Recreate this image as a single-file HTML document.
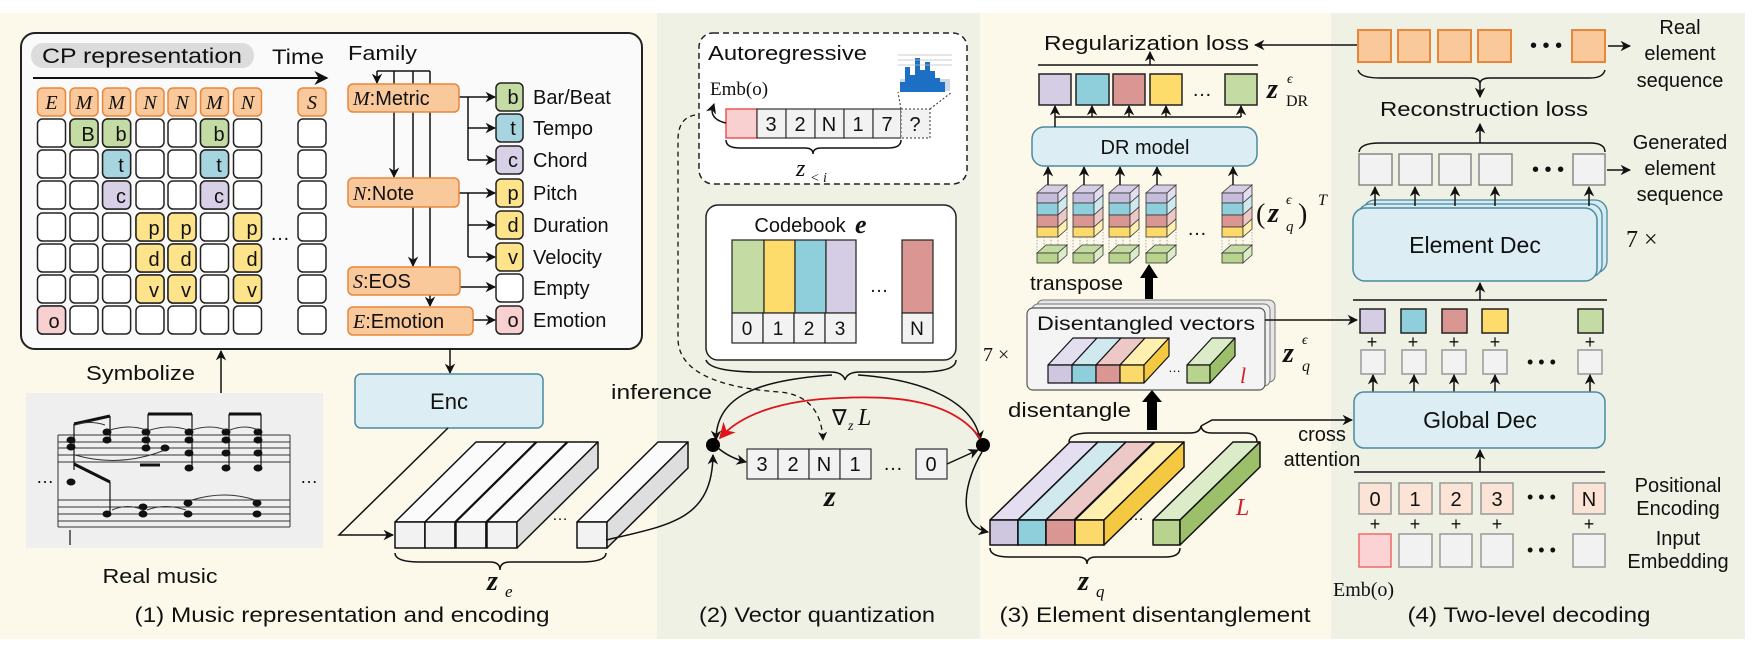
<!DOCTYPE html>
<html><head><meta charset="utf-8"><style>
html,body{margin:0;padding:0;background:#fff;}
svg{display:block;}
text{font-family:"Liberation Sans",sans-serif;fill:#111;}
.m{font-family:"Liberation Serif",serif;font-style:italic;}
.mb{font-family:"Liberation Serif",serif;font-style:italic;font-weight:bold;}
.r{font-family:"Liberation Serif",serif;}
</style></head><body>
<svg width="1755" height="647" viewBox="0 0 1755 647" xmlns="http://www.w3.org/2000/svg">
<defs>
<marker id="a" viewBox="0 0 10 10" refX="9" refY="5" markerWidth="7" markerHeight="7" orient="auto-start-reverse"><path d="M0,0 L10,5 L0,10 L3,5 z" fill="#111"/></marker>
<marker id="ar" viewBox="0 0 10 10" refX="9" refY="5" markerWidth="9" markerHeight="9" orient="auto"><path d="M0,0 L10,5 L0,10 L3,5 z" fill="#e0141b"/></marker>
<g id="gr" stroke="#222" stroke-width="1.5" fill="#fff">
<rect x="37.5" y="0" width="28" height="28" rx="5"/><rect x="70" y="0" width="28" height="28" rx="5"/><rect x="102.6" y="0" width="28" height="28" rx="5"/><rect x="136" y="0" width="28" height="28" rx="5"/><rect x="168" y="0" width="28" height="28" rx="5"/><rect x="200.5" y="0" width="28" height="28" rx="5"/><rect x="233.5" y="0" width="28" height="28" rx="5"/><rect x="298" y="0" width="28" height="28" rx="5"/>
</g>
<g id="zb" stroke="#111" stroke-width="1.5" stroke-linejoin="round"><path d="M0,0 L81,-80 L111,-80 L30,0 z" fill="#fbfbfb"/><rect x="0" y="0" width="30" height="26" fill="#f2f2f2"/><path d="M30,0 L111,-80 L111,-54 L30,26 z" fill="#dedede"/></g>
<g id="st" stroke="#333" stroke-width="0.8">
<path d="M0,8 L9,0 L30,0 L21,8 z" fill="#d5cde3"/>
<rect x="0" y="8" width="21" height="10" fill="#c6bddc"/><path d="M21,8 L30,0 L30,10 L21,18z" fill="#e4dff0"/>
<rect x="0" y="18" width="21" height="12" fill="#8fcfdc"/><path d="M21,18 L30,10 L30,22 L21,30z" fill="#cfe9ef"/>
<rect x="0" y="30" width="21" height="12" fill="#d99692"/><path d="M21,30 L30,22 L30,34 L21,42z" fill="#ecc9c7"/>
<rect x="0" y="42" width="21" height="10" fill="#fcd96b"/><path d="M21,42 L30,34 L30,44 L21,52z" fill="#fff0b0"/>
<g stroke-dasharray="1.5,1.5" stroke="#999"><line x1="0" y1="52" x2="0" y2="68"/><line x1="7" y1="52" x2="7" y2="68"/><line x1="14" y1="52" x2="14" y2="68"/><line x1="21" y1="52" x2="21" y2="68"/><line x1="30" y1="44" x2="30" y2="60"/></g>
<path d="M0,68 L9,60 L30,60 L21,68 z" fill="#c5dba4"/>
<rect x="0" y="68" width="21" height="10" fill="#b7d38e"/><path d="M21,68 L30,60 L30,70 L21,78z" fill="#dcebc8"/>
</g>
</defs>
<!-- panels -->
<rect x="0" y="13" width="657" height="626" fill="#fcf9ea"/>
<rect x="657" y="13" width="323" height="626" fill="#eef1e4"/>
<rect x="980" y="13" width="351" height="626" fill="#fcf9ea"/>
<rect x="1331" y="13" width="414" height="626" fill="#eef1e4"/>

<!-- Panel 1 outer box -->
<rect x="21" y="33" width="621" height="316" rx="14" fill="#fafafa" stroke="#222" stroke-width="2"/>
<rect x="31" y="43" width="223" height="25" rx="12" fill="#dcdcdc"/>
<text x="142" y="63" font-size="21" text-anchor="middle" textLength="200" lengthAdjust="spacingAndGlyphs">CP representation</text>
<text x="272" y="64" font-size="21" textLength="52" lengthAdjust="spacingAndGlyphs">Time</text>
<line x1="33" y1="78" x2="327" y2="78" stroke="#111" stroke-width="2" marker-end="url(#a)"/>

<!-- token row -->
<g stroke="#e8873a" stroke-width="1.5" fill="#f9c89b">
<rect x="37.5" y="88" width="28" height="28" rx="5"/><rect x="70" y="88" width="28" height="28" rx="5"/><rect x="102.6" y="88" width="28" height="28" rx="5"/><rect x="136" y="88" width="28" height="28" rx="5"/><rect x="168" y="88" width="28" height="28" rx="5"/><rect x="200.5" y="88" width="28" height="28" rx="5"/><rect x="233.5" y="88" width="28" height="28" rx="5"/><rect x="298" y="88" width="28" height="28" rx="5"/>
</g>
<g font-size="20" text-anchor="middle">
<text class="m" x="51.5" y="109">E</text><text class="m" x="84" y="109">M</text><text class="m" x="116.6" y="109">M</text><text class="m" x="150" y="109">N</text><text class="m" x="182" y="109">N</text><text class="m" x="214.5" y="109">M</text><text class="m" x="247.5" y="109">N</text><text class="m" x="312" y="109">S</text>
</g>
<!-- grid -->
<use href="#gr" y="119"/><use href="#gr" y="150"/><use href="#gr" y="181"/><use href="#gr" y="213"/><use href="#gr" y="244"/><use href="#gr" y="275"/><use href="#gr" y="306"/>
<g stroke="#222" stroke-width="1.5">
<rect x="70" y="119" width="28" height="28" rx="5" fill="#c5dba4"/><rect x="102.6" y="119" width="28" height="28" rx="5" fill="#c5dba4"/><rect x="200.5" y="119" width="28" height="28" rx="5" fill="#c5dba4"/>
<rect x="102.6" y="150" width="28" height="28" rx="5" fill="#a6d5e0"/><rect x="200.5" y="150" width="28" height="28" rx="5" fill="#a6d5e0"/>
<rect x="102.6" y="181" width="28" height="28" rx="5" fill="#d8d0e6"/><rect x="200.5" y="181" width="28" height="28" rx="5" fill="#d8d0e6"/>
<rect x="136" y="213" width="28" height="28" rx="5" fill="#fde38a"/><rect x="168" y="213" width="28" height="28" rx="5" fill="#fde38a"/><rect x="233.5" y="213" width="28" height="28" rx="5" fill="#fde38a"/>
<rect x="136" y="244" width="28" height="28" rx="5" fill="#fde38a"/><rect x="168" y="244" width="28" height="28" rx="5" fill="#fde38a"/><rect x="233.5" y="244" width="28" height="28" rx="5" fill="#fde38a"/>
<rect x="136" y="275" width="28" height="28" rx="5" fill="#fde38a"/><rect x="168" y="275" width="28" height="28" rx="5" fill="#fde38a"/><rect x="233.5" y="275" width="28" height="28" rx="5" fill="#fde38a"/>
<rect x="37.5" y="306" width="28" height="28" rx="5" fill="#f9d0d0"/>
</g>
<g font-size="20" text-anchor="middle">
<text x="88" y="141">B</text><text x="121" y="141">b</text><text x="219" y="141">b</text>
<text x="121" y="172">t</text><text x="219" y="172">t</text>
<text x="121" y="203">c</text><text x="219" y="203">c</text>
<text x="154" y="235">p</text><text x="186" y="235">p</text><text x="252" y="235">p</text>
<text x="154" y="266">d</text><text x="186" y="266">d</text><text x="252" y="266">d</text>
<text x="154" y="297">v</text><text x="186" y="297">v</text><text x="252" y="297">v</text>
<text x="54" y="328">o</text>
<text x="280" y="240">…</text>
</g>

<!-- family tree -->
<text x="348" y="60" font-size="20" textLength="69" lengthAdjust="spacingAndGlyphs">Family</text>
<g stroke="#111" stroke-width="1.5" fill="none">
<line x1="377" y1="71" x2="430" y2="71"/>
<line x1="377" y1="71" x2="377" y2="83" marker-end="url(#a)"/>
<line x1="394" y1="71" x2="394" y2="177" marker-end="url(#a)"/>
<line x1="413" y1="71" x2="413" y2="266" marker-end="url(#a)"/>
<line x1="430" y1="71" x2="430" y2="306" marker-end="url(#a)"/>
<polyline points="459,97 468,97 468,160"/>
<line x1="468" y1="97" x2="495" y2="97" marker-end="url(#a)"/>
<line x1="468" y1="128" x2="495" y2="128" marker-end="url(#a)"/>
<line x1="468" y1="160" x2="495" y2="160" marker-end="url(#a)"/>
<polyline points="459,193 468,193 468,257"/>
<line x1="468" y1="193" x2="495" y2="193" marker-end="url(#a)"/>
<line x1="468" y1="225" x2="495" y2="225" marker-end="url(#a)"/>
<line x1="468" y1="257" x2="495" y2="257" marker-end="url(#a)"/>
<line x1="460" y1="287" x2="495" y2="287" marker-end="url(#a)"/>
<line x1="473" y1="320" x2="495" y2="320" marker-end="url(#a)"/>
</g>
<g stroke="#e8873a" stroke-width="1.5" fill="#f9c89b">
<rect x="348" y="84" width="111" height="28" rx="5"/>
<rect x="348" y="178" width="111" height="29" rx="5"/>
<rect x="348" y="267" width="112" height="28" rx="5"/>
<rect x="348" y="307" width="125" height="28" rx="5"/>
</g>
<g font-size="20">
<text x="353" y="105"><tspan class="m">M</tspan>:Metric</text>
<text x="353" y="200"><tspan class="m">N</tspan>:Note</text>
<text x="353" y="288"><tspan class="m">S</tspan>:EOS</text>
<text x="353" y="328"><tspan class="m">E</tspan>:Emotion</text>
</g>
<g stroke="#222" stroke-width="1.5">
<rect x="496" y="83" width="27" height="28" rx="5" fill="#c5dba4"/>
<rect x="496" y="114" width="27" height="28" rx="5" fill="#a6d5e0"/>
<rect x="496" y="146" width="27" height="28" rx="5" fill="#d8d0e6"/>
<rect x="496" y="179" width="27" height="28" rx="5" fill="#fde38a"/>
<rect x="496" y="211" width="27" height="28" rx="5" fill="#fde38a"/>
<rect x="496" y="243" width="27" height="28" rx="5" fill="#fde38a"/>
<rect x="496" y="274" width="27" height="28" rx="5" fill="#fff"/>
<rect x="496" y="306" width="27" height="28" rx="5" fill="#f9d0d0"/>
</g>
<g font-size="20" text-anchor="middle">
<text x="513" y="104">b</text><text x="513" y="135">t</text><text x="513" y="167">c</text><text x="513" y="200">p</text><text x="513" y="232">d</text><text x="513" y="264">v</text><text x="513" y="327">o</text>
</g>
<g font-size="20">
<text x="533" y="104">Bar/Beat</text><text x="533" y="135">Tempo</text><text x="533" y="167">Chord</text><text x="533" y="200">Pitch</text><text x="533" y="232">Duration</text><text x="533" y="264">Velocity</text><text x="533" y="295">Empty</text><text x="533" y="327">Emotion</text>
</g>

<!-- Symbolize / music -->
<text x="86" y="380" font-size="20" textLength="109" lengthAdjust="spacingAndGlyphs">Symbolize</text>
<line x1="221" y1="393" x2="221" y2="351" stroke="#111" stroke-width="1.5" marker-end="url(#a)"/>
<rect x="26" y="393" width="297" height="155" fill="#efefef"/>
<g stroke="#333" stroke-width="1">
<line x1="58" y1="435" x2="290" y2="435"/><line x1="58" y1="442" x2="290" y2="442"/><line x1="58" y1="448" x2="290" y2="448"/><line x1="58" y1="455" x2="290" y2="455"/><line x1="58" y1="462" x2="290" y2="462"/>
<line x1="58" y1="500" x2="290" y2="500"/><line x1="58" y1="507" x2="290" y2="507"/><line x1="58" y1="514" x2="290" y2="514"/><line x1="58" y1="521" x2="290" y2="521"/><line x1="58" y1="527" x2="290" y2="527"/>
<line x1="58" y1="435" x2="58" y2="527"/><line x1="290" y1="435" x2="290" y2="527"/>
</g>
<g fill="#111" stroke="#111">
<line x1="74" y1="424" x2="110" y2="416" stroke-width="3"/>
<line x1="148" y1="414" x2="192" y2="414" stroke-width="3"/>
<line x1="229" y1="414" x2="261" y2="414" stroke-width="3"/>
<line x1="74" y1="464" x2="110" y2="482" stroke-width="3"/>
<line x1="140" y1="465" x2="160" y2="465" stroke-width="3"/>
<g stroke-width="1.2">
<line x1="74" y1="424" x2="74" y2="470"/><line x1="110" y1="416" x2="110" y2="440"/><line x1="148" y1="414" x2="148" y2="450"/><line x1="192" y1="414" x2="192" y2="470"/><line x1="229" y1="414" x2="229" y2="470"/><line x1="261" y1="414" x2="261" y2="470"/><line x1="110" y1="482" x2="110" y2="514"/><line x1="70" y1="530" x2="70" y2="545"/>
</g>
<ellipse cx="71" cy="447" rx="4" ry="3"/><ellipse cx="71" cy="440" rx="4" ry="3"/><ellipse cx="107" cy="440" rx="4" ry="3"/><ellipse cx="107" cy="432" rx="4" ry="3"/>
<ellipse cx="146" cy="432" rx="4" ry="3"/><ellipse cx="146" cy="440" rx="4" ry="3"/><ellipse cx="146" cy="448" rx="4" ry="3"/><ellipse cx="165" cy="448" rx="4" ry="3"/>
<ellipse cx="189" cy="432" rx="4" ry="3"/><ellipse cx="189" cy="440" rx="4" ry="3"/><ellipse cx="189" cy="453" rx="4" ry="3"/><ellipse cx="189" cy="468" rx="4" ry="3"/>
<ellipse cx="226" cy="432" rx="4" ry="3"/><ellipse cx="226" cy="440" rx="4" ry="3"/><ellipse cx="226" cy="453" rx="4" ry="3"/><ellipse cx="226" cy="468" rx="4" ry="3"/>
<ellipse cx="258" cy="432" rx="4" ry="3"/><ellipse cx="258" cy="440" rx="4" ry="3"/><ellipse cx="258" cy="453" rx="4" ry="3"/><ellipse cx="258" cy="468" rx="4" ry="3"/>
<ellipse cx="71" cy="482" rx="4" ry="3"/><ellipse cx="107" cy="514" rx="4" ry="3"/><ellipse cx="143" cy="507" rx="4" ry="3"/><ellipse cx="143" cy="514" rx="4" ry="3"/>
<ellipse cx="188" cy="503" rx="4" ry="3"/><ellipse cx="188" cy="514" rx="4" ry="3"/><ellipse cx="257" cy="503" rx="4" ry="3"/><ellipse cx="257" cy="514" rx="4" ry="3"/>
</g>
<g fill="none" stroke="#333" stroke-width="1"><path d="M75,425 Q90,420 105,425"/><path d="M110,430 Q130,424 146,430"/><path d="M150,430 Q170,424 188,430"/><path d="M192,430 Q210,424 226,430"/><path d="M230,430 Q245,424 258,430"/><path d="M112,510 Q128,503 143,510"/><path d="M147,510 Q165,503 186,510"/><path d="M192,500 Q225,490 255,500"/><path d="M75,455 Q120,468 165,450"/></g>
<text x="36" y="483" font-size="18">…</text><text x="300" y="483" font-size="18">…</text>
<text x="160" y="583" font-size="20" text-anchor="middle" textLength="115" lengthAdjust="spacingAndGlyphs">Real music</text>

<!-- Enc -->
<line x1="450" y1="349" x2="450" y2="373" stroke="#111" stroke-width="1.5" marker-end="url(#a)"/>
<rect x="355" y="374" width="188" height="54" rx="6" fill="#dcedf4" stroke="#4a8aa0" stroke-width="1.5"/>
<text x="449" y="409" font-size="22" text-anchor="middle">Enc</text>
<polyline points="448,428 339,535 393,535" fill="none" stroke="#111" stroke-width="1.5" marker-end="url(#a)"/>
<use href="#zb" x="395" y="522"/><use href="#zb" x="425" y="522"/><use href="#zb" x="456" y="522"/><use href="#zb" x="487" y="522"/><use href="#zb" x="577" y="522"/>
<text x="552" y="520" font-size="16">…</text>
<path d="M395,553 Q395,562 420,562 L490,562 Q500,562 500,570 Q500,562 510,562 L580,562 Q606,562 606,553" fill="none" stroke="#111" stroke-width="1.5"/>
<text x="487" y="590" class="mb" font-size="28">z</text><text x="505" y="597" class="m" font-size="17">e</text>
<text x="342" y="622" font-size="21" text-anchor="middle" textLength="415" lengthAdjust="spacingAndGlyphs">(1) Music representation and encoding</text>

<!-- Panel 2 -->
<rect x="699" y="33" width="268" height="151" rx="14" fill="#fff" stroke="#222" stroke-width="1.5" stroke-dasharray="6,4"/>
<text x="708" y="60" font-size="20" textLength="159" lengthAdjust="spacingAndGlyphs">Autoregressive</text>
<text x="710" y="95" class="r" font-size="19">Emb(o)</text>
<g fill="#1d6fc4"><rect x="900" y="79" width="50" height="12" fill="#cfd8e6"/>
<rect x="900" y="82" width="5" height="10"/><rect x="905" y="67" width="5" height="25"/><rect x="910" y="75" width="5" height="17"/><rect x="915" y="58" width="5" height="34"/><rect x="920" y="70" width="5" height="22"/><rect x="925" y="62" width="5" height="30"/><rect x="930" y="71" width="5" height="21"/><rect x="935" y="78" width="5" height="14"/><rect x="940" y="82" width="5" height="10"/></g>
<g stroke="#bbb" stroke-width="0.8"><line x1="898" y1="55" x2="952" y2="55"/><line x1="898" y1="60" x2="952" y2="60"/><line x1="898" y1="65" x2="952" y2="65"/></g>
<path d="M901,109 L898,92 M930,109 L952,92" stroke="#333" stroke-dasharray="2,2" fill="none"/>
<rect x="726" y="109" width="31" height="29" fill="#f9d0d0" stroke="#e55" stroke-width="1.5"/>
<g stroke="#333" stroke-width="1.2" fill="#f2f2f2">
<rect x="757" y="109" width="29" height="29"/><rect x="786" y="109" width="29" height="29"/><rect x="815" y="109" width="29" height="29"/><rect x="844" y="109" width="29" height="29"/><rect x="873" y="109" width="28" height="29"/>
</g>
<rect x="901" y="109" width="29" height="29" fill="#f2f2f2" stroke="#333" stroke-dasharray="2,2"/>
<g font-size="20" text-anchor="middle"><text x="771" y="131">3</text><text x="800" y="131">2</text><text x="829" y="131">N</text><text x="858" y="131">1</text><text x="887" y="131">7</text><text x="915" y="131">?</text></g>
<path d="M726,123 Q712,120 712,110 L714,104" fill="none" stroke="#111" stroke-width="1.5" marker-end="url(#a)"/>
<path d="M726,140 Q726,148 740,148 L805,148 Q813,148 813,154 Q813,148 821,148 L888,148 Q901,148 901,140" fill="none" stroke="#111" stroke-width="1.5"/>
<text x="796" y="176" class="m" font-size="24">z</text><text x="810" y="182" class="m" font-size="14">&lt; i</text>

<!-- codebook -->
<rect x="706" y="205" width="250" height="155" rx="12" fill="#fff" stroke="#222" stroke-width="1.5"/>
<text x="800" y="232" font-size="20" text-anchor="middle">Codebook</text><text x="855" y="233" class="mb" font-size="26">e</text>
<g stroke="#222" stroke-width="1.2">
<rect x="732" y="240" width="32" height="73" fill="#c5dba4"/><rect x="764" y="240" width="31" height="73" fill="#fddc6c"/><rect x="795" y="240" width="31" height="73" fill="#8fcfdc"/><rect x="826" y="240" width="30" height="73" fill="#d5cde3"/><rect x="902" y="240" width="31" height="73" fill="#d99692"/>
<rect x="732" y="313" width="31" height="30" fill="#f2f2f2"/><rect x="763" y="313" width="31" height="30" fill="#f2f2f2"/><rect x="794" y="313" width="31" height="30" fill="#f2f2f2"/><rect x="825" y="313" width="31" height="30" fill="#f2f2f2"/><rect x="902" y="313" width="31" height="30" fill="#f2f2f2"/>
</g>
<g font-size="19" text-anchor="middle"><text x="747" y="335">0</text><text x="778" y="335">1</text><text x="809" y="335">2</text><text x="840" y="335">3</text><text x="917" y="335">N</text><text x="879" y="292">…</text></g>
<!-- curves -->
<path d="M706,360 Q710,372 760,372 L830,372 Q843,372 845,380 Q847,372 860,372 L920,372 Q956,372 956,360" fill="none" stroke="#111" stroke-width="1.5"/>
<path d="M832,375 C760,380 716,395 716,440" fill="none" stroke="#111" stroke-width="1.5" marker-end="url(#a)"/>
<path d="M858,375 C930,380 975,405 980,440" fill="none" stroke="#111" stroke-width="1.5" marker-end="url(#a)"/>
<path d="M695,115 Q678,118 678,140 L678,340 Q680,385 780,392 Q821,396 823,440" fill="none" stroke="#111" stroke-width="1.3" stroke-dasharray="5,4" marker-end="url(#a)"/>
<path d="M983,443 C955,395 880,396 840,398 C780,400 740,415 720,438" fill="none" stroke="#e0141b" stroke-width="1.8" marker-end="url(#ar)"/>
<circle cx="713" cy="445" r="7" fill="#000"/><circle cx="983" cy="445" r="7" fill="#000"/>
<text x="611" y="399" font-size="20" textLength="101" lengthAdjust="spacingAndGlyphs">inference</text>
<text x="832" y="425" class="r" font-size="22">∇</text><text x="848" y="430" class="m" font-size="14">z</text><text x="858" y="425" class="m" font-size="24">L</text>
<path d="M606,540 C670,525 712,520 713,455" fill="none" stroke="#111" stroke-width="1.5" marker-end="url(#a)"/>
<path d="M718,448 Q730,458 746,462" fill="none" stroke="#111" stroke-width="1.5" marker-end="url(#a)"/>
<g stroke="#333" stroke-width="1.2" fill="#f2f2f2"><rect x="747" y="449" width="31" height="30"/><rect x="778" y="449" width="31" height="30"/><rect x="809" y="449" width="31" height="30"/><rect x="840" y="449" width="31" height="30"/><rect x="916" y="449" width="31" height="30"/></g>
<g font-size="20" text-anchor="middle"><text x="762" y="471">3</text><text x="793" y="471">2</text><text x="824" y="471">N</text><text x="855" y="471">1</text><text x="931" y="471">0</text><text x="893" y="470">…</text></g>
<path d="M947,464 L978,450" fill="none" stroke="#111" stroke-width="1.5" marker-end="url(#a)"/>
<text x="824" y="506" class="mb" font-size="30">z</text>
<path d="M982,452 C965,480 955,525 988,532" fill="none" stroke="#111" stroke-width="1.5" marker-end="url(#a)"/>
<text x="817" y="622" font-size="21" text-anchor="middle" textLength="236" lengthAdjust="spacingAndGlyphs">(2) Vector quantization</text>

<!-- Panel 3: z_q blocks -->
<g stroke="#111" stroke-width="1.5" stroke-linejoin="round">
<g transform="translate(990,520)"><path d="M0,0 L80,-78 L108,-78 L28,0 z" fill="#e4dff0"/><rect width="28" height="25" fill="#cfc6e0"/><path d="M28,0 L108,-78 L108,-53 L28,25 z" fill="#b9afd0"/></g>
<g transform="translate(1018,520)"><path d="M0,0 L80,-78 L108,-78 L28,0 z" fill="#cfe9ef"/><rect width="28" height="25" fill="#8fcfdc"/><path d="M28,0 L108,-78 L108,-53 L28,25 z" fill="#79bfcf"/></g>
<g transform="translate(1046,520)"><path d="M0,0 L80,-78 L108,-78 L28,0 z" fill="#ecc9c7"/><rect width="29" height="25" fill="#d99692"/><path d="M29,0 L108,-78 L108,-53 L29,25 z" fill="#c97e7a"/></g>
<g transform="translate(1075,520)"><path d="M0,0 L80,-78 L109,-78 L29,0 z" fill="#fff0b0"/><rect width="29" height="25" fill="#fcd96b"/><path d="M29,0 L109,-78 L109,-53 L29,25 z" fill="#f5c842"/></g>
<g transform="translate(1153,520)"><path d="M0,0 L80,-78 L107,-78 L27,0 z" fill="#dcebc8"/><rect width="27" height="25" fill="#b7d38e"/><path d="M27,0 L107,-78 L107,-53 L27,25 z" fill="#9cc06a"/></g>
</g>
<text x="1128" y="520" font-size="16">…</text>
<text x="1236" y="515" class="m" font-size="24" style="fill:#d0202a">L</text>
<path d="M990,548 Q990,557 1010,557 L1078,557 Q1087,557 1087,564 Q1087,557 1096,557 L1165,557 Q1180,557 1180,548" fill="none" stroke="#111" stroke-width="1.5"/>
<text x="1078" y="590" class="mb" font-size="28">z</text><text x="1096" y="597" class="m" font-size="17">q</text>
<text x="1155" y="622" font-size="21" text-anchor="middle" textLength="311" lengthAdjust="spacingAndGlyphs">(3) Element disentanglement</text>
<path d="M1069,442 Q1069,433 1090,433 L1190,433 Q1200,433 1201,426 Q1202,433 1212,433 L1245,433 Q1257,433 1257,442" fill="none" stroke="#111" stroke-width="1.5"/>
<polyline points="1201,426 1212,420 1352,420" fill="none" stroke="#111" stroke-width="1.5" marker-end="url(#a)"/>
<text x="1322" y="441" font-size="20" text-anchor="middle">cross</text>
<text x="1322" y="466" font-size="20" text-anchor="middle">attention</text>
<text x="1008" y="417" font-size="20" textLength="123" lengthAdjust="spacingAndGlyphs">disentangle</text>
<path d="M1147,430 L1147,402 L1142,402 L1152,390 L1162,402 L1157,402 L1157,430 z" fill="#000"/>

<!-- disentangled vectors -->
<rect x="1037" y="300" width="238" height="82" rx="6" fill="#e6e6e6" stroke="#777" stroke-width="1"/>
<rect x="1032" y="304" width="238" height="82" rx="6" fill="#efefef" stroke="#777" stroke-width="1"/>
<rect x="1027" y="308" width="238" height="82" rx="6" fill="#f4f4f4" stroke="#555" stroke-width="1.2"/>
<text x="1146" y="330" font-size="19" text-anchor="middle" textLength="218" lengthAdjust="spacingAndGlyphs">Disentangled vectors</text>
<g stroke="#111" stroke-width="1.2" stroke-linejoin="round">
<g transform="translate(1048,365)"><path d="M0,0 L25,-27 L49,-27 L24,0 z" fill="#e4dff0"/><rect width="24" height="18" fill="#cfc6e0"/></g>
<g transform="translate(1072,365)"><path d="M0,0 L25,-27 L49,-27 L24,0 z" fill="#cfe9ef"/><rect width="24" height="18" fill="#8fcfdc"/></g>
<g transform="translate(1096,365)"><path d="M0,0 L25,-27 L49,-27 L24,0 z" fill="#ecc9c7"/><rect width="24" height="18" fill="#d99692"/></g>
<g transform="translate(1120,365)"><path d="M0,0 L25,-27 L49,-27 L24,0 z" fill="#fff0b0"/><rect width="24" height="18" fill="#fcd96b"/><path d="M24,0 L49,-27 L49,-9 L24,18 z" fill="#f5c842"/></g>
<g transform="translate(1187,365)"><path d="M0,0 L25,-27 L48,-27 L23,0 z" fill="#dcebc8"/><rect width="23" height="18" fill="#b7d38e"/><path d="M23,0 L48,-27 L48,-9 L23,18 z" fill="#9cc06a"/></g>
</g>
<text x="1168" y="372" font-size="13">…</text>
<text x="1240" y="383" class="m" font-size="22" style="fill:#d0202a">l</text>
<text x="983" y="361" font-size="20" class="r">7 ×</text>
<text x="1283" y="362" class="mb" font-size="28">z</text><text x="1302" y="371" class="m" font-size="16">q</text><text x="1302" y="344" class="m" font-size="14">ϵ</text>
<line x1="1265" y1="320" x2="1357" y2="320" stroke="#111" stroke-width="1.5" marker-end="url(#a)"/>
<text x="1030" y="290" font-size="20" textLength="93" lengthAdjust="spacingAndGlyphs">transpose</text>
<path d="M1145,299 L1145,278 L1140,278 L1149,264 L1158,278 L1153,278 L1153,299 z" fill="#000"/>
<use href="#st" x="1037" y="185"/><use href="#st" x="1073" y="185"/><use href="#st" x="1109" y="185"/><use href="#st" x="1146" y="185"/><use href="#st" x="1222" y="185"/>
<text x="1187" y="235" font-size="20">…</text>
<text x="1256" y="223" class="r" font-size="28">(</text><text x="1268" y="222" class="mb" font-size="28">z</text><text x="1286" y="231" class="m" font-size="15">q</text><text x="1286" y="204" class="m" font-size="14">ϵ</text><text x="1298" y="223" class="r" font-size="28">)</text><text x="1318" y="205" class="m" font-size="16">T</text>
<g stroke="#111" stroke-width="1.5" fill="none">
<line x1="1048" y1="185" x2="1048" y2="167" marker-end="url(#a)"/><line x1="1084" y1="185" x2="1084" y2="167" marker-end="url(#a)"/><line x1="1120" y1="185" x2="1120" y2="167" marker-end="url(#a)"/><line x1="1157" y1="185" x2="1157" y2="167" marker-end="url(#a)"/><line x1="1233" y1="185" x2="1233" y2="167" marker-end="url(#a)"/>
</g>
<rect x="1032" y="127" width="225" height="39" rx="12" fill="#dcedf4" stroke="#4a8aa0" stroke-width="1.5"/>
<text x="1145" y="154" font-size="20" text-anchor="middle">DR model</text>
<g stroke="#111" stroke-width="1.5" fill="none">
<line x1="1055" y1="117" x2="1241" y2="117"/>
<line x1="1055" y1="127" x2="1055" y2="106" marker-end="url(#a)"/><line x1="1092" y1="117" x2="1092" y2="106" marker-end="url(#a)"/><line x1="1129" y1="117" x2="1129" y2="106" marker-end="url(#a)"/><line x1="1166" y1="117" x2="1166" y2="106" marker-end="url(#a)"/><line x1="1241" y1="117" x2="1241" y2="106" marker-end="url(#a)"/>
<line x1="1038" y1="65" x2="1258" y2="65"/>
<line x1="1150" y1="65" x2="1150" y2="52" marker-end="url(#a)"/>
<line x1="1357" y1="45" x2="1255" y2="45" marker-end="url(#a)"/>
</g>
<g stroke="#222" stroke-width="1.5">
<rect x="1039" y="74" width="32" height="31" fill="#d5cde3"/><rect x="1076" y="74" width="33" height="31" fill="#8fcfdc"/><rect x="1113" y="74" width="32" height="31" fill="#d99692"/><rect x="1150" y="74" width="32" height="31" fill="#fddc6c"/><rect x="1225" y="74" width="32" height="31" fill="#c5dba4"/>
</g>
<text x="1192" y="96" font-size="20">…</text>
<text x="1044" y="50" font-size="20" textLength="205" lengthAdjust="spacingAndGlyphs">Regularization loss</text>
<text x="1267" y="98" class="mb" font-size="28">z</text><text x="1286" y="106" class="r" font-size="16">DR</text><text x="1287" y="83" class="m" font-size="14">ϵ</text>

<!-- Panel 4 -->
<g stroke="#e8873a" stroke-width="2" fill="#f9c89b">
<rect x="1358" y="30" width="33" height="32"/><rect x="1398" y="30" width="32" height="32"/><rect x="1438" y="30" width="33" height="32"/><rect x="1478" y="30" width="33" height="32"/><rect x="1572" y="30" width="33" height="32"/>
</g>
<text x="1530" y="52" font-size="20">• • •</text>
<line x1="1608" y1="46" x2="1630" y2="46" stroke="#111" stroke-width="1.5" marker-end="url(#a)"/>
<g font-size="20" text-anchor="middle"><text x="1680" y="34">Real</text><text x="1680" y="60">element</text><text x="1680" y="87">sequence</text></g>
<path d="M1358,70 Q1360,78 1380,78 L1470,78 Q1480,78 1480,84 Q1480,78 1490,78 L1590,78 Q1603,78 1605,70" fill="none" stroke="#111" stroke-width="1.5"/>
<line x1="1480" y1="84" x2="1480" y2="97" stroke="#111" stroke-width="1.5" marker-end="url(#a)"/>
<text x="1484" y="116" font-size="20" text-anchor="middle" textLength="208" lengthAdjust="spacingAndGlyphs">Reconstruction loss</text>
<line x1="1480" y1="143" x2="1480" y2="124" stroke="#111" stroke-width="1.5" marker-end="url(#a)"/>
<path d="M1359,152 Q1360,143 1380,143 L1590,143 Q1605,143 1605,152" fill="none" stroke="#111" stroke-width="1.5"/>
<g stroke="#888" stroke-width="1.5" fill="#f2f2f2">
<rect x="1359" y="154" width="33" height="31"/><rect x="1399" y="154" width="33" height="31"/><rect x="1439" y="154" width="32" height="31"/><rect x="1479" y="154" width="33" height="31"/><rect x="1573" y="154" width="32" height="31"/>
</g>
<text x="1532" y="176" font-size="20">• • •</text>
<line x1="1607" y1="170" x2="1630" y2="170" stroke="#111" stroke-width="1.5" marker-end="url(#a)"/>
<g font-size="20" text-anchor="middle"><text x="1680" y="149">Generated</text><text x="1680" y="175">element</text><text x="1680" y="201">sequence</text></g>
<rect x="1363" y="200" width="244" height="73" rx="12" fill="#d6eaf2" stroke="#4a8aa0" stroke-width="1.3"/>
<rect x="1358" y="204" width="244" height="73" rx="12" fill="#d9ecf3" stroke="#4a8aa0" stroke-width="1.3"/>
<rect x="1353" y="208" width="244" height="73" rx="12" fill="#dcedf4" stroke="#4a8aa0" stroke-width="1.5"/>
<text x="1475" y="253" font-size="23" text-anchor="middle">Element Dec</text>
<g stroke="#111" stroke-width="1.5">
<line x1="1375" y1="206" x2="1375" y2="187" marker-end="url(#a)"/><line x1="1415" y1="206" x2="1415" y2="187" marker-end="url(#a)"/><line x1="1455" y1="206" x2="1455" y2="187" marker-end="url(#a)"/><line x1="1495" y1="206" x2="1495" y2="187" marker-end="url(#a)"/><line x1="1589" y1="206" x2="1589" y2="187" marker-end="url(#a)"/>
<line x1="1353" y1="300" x2="1607" y2="300"/>
<line x1="1480" y1="300" x2="1480" y2="283" marker-end="url(#a)"/>
</g>
<text x="1626" y="247" class="r" font-size="24">7 ×</text>
<g stroke="#222" stroke-width="1.5">
<rect x="1360" y="309" width="25" height="24" fill="#d5cde3"/><rect x="1401" y="309" width="25" height="24" fill="#8fcfdc"/><rect x="1442" y="309" width="25" height="24" fill="#d99692"/><rect x="1482" y="309" width="26" height="24" fill="#fddc6c"/><rect x="1578" y="309" width="25" height="24" fill="#c5dba4"/>
</g>
<g font-size="18" text-anchor="middle"><text x="1372" y="348">+</text><text x="1413" y="348">+</text><text x="1454" y="348">+</text><text x="1495" y="348">+</text><text x="1590" y="348">+</text></g>
<g stroke="#999" stroke-width="1.5" fill="#f2f2f2">
<rect x="1361" y="350" width="24" height="24"/><rect x="1402" y="350" width="24" height="24"/><rect x="1442" y="350" width="24" height="24"/><rect x="1483" y="350" width="24" height="24"/><rect x="1578" y="350" width="24" height="24"/>
</g>
<text x="1527" y="368" font-size="18">• • •</text>
<g stroke="#111" stroke-width="1.5">
<line x1="1373" y1="392" x2="1373" y2="375" marker-end="url(#a)"/><line x1="1414" y1="392" x2="1414" y2="375" marker-end="url(#a)"/><line x1="1454" y1="392" x2="1454" y2="375" marker-end="url(#a)"/><line x1="1495" y1="392" x2="1495" y2="375" marker-end="url(#a)"/><line x1="1590" y1="392" x2="1590" y2="375" marker-end="url(#a)"/>
</g>
<rect x="1354" y="392" width="251" height="56" rx="10" fill="#dcedf4" stroke="#4a8aa0" stroke-width="1.5"/>
<text x="1480" y="428" font-size="23" text-anchor="middle">Global Dec</text>
<line x1="1354" y1="472" x2="1605" y2="472" stroke="#111" stroke-width="1.5"/>
<line x1="1480" y1="472" x2="1480" y2="450" stroke="#111" stroke-width="1.5" marker-end="url(#a)"/>
<g stroke="#999" stroke-width="1.5" fill="#fbe3d6">
<rect x="1359" y="483" width="32" height="31"/><rect x="1399" y="483" width="33" height="31"/><rect x="1440" y="483" width="32" height="31"/><rect x="1481" y="483" width="32" height="31"/><rect x="1573" y="483" width="32" height="31"/>
</g>
<g font-size="20" text-anchor="middle"><text x="1375" y="506">0</text><text x="1415" y="506">1</text><text x="1456" y="506">2</text><text x="1497" y="506">3</text><text x="1589" y="506">N</text></g>
<text x="1527" y="503" font-size="18">• • •</text>
<g font-size="18" text-anchor="middle"><text x="1375" y="530">+</text><text x="1415" y="530">+</text><text x="1456" y="530">+</text><text x="1497" y="530">+</text><text x="1589" y="530">+</text></g>
<rect x="1359" y="534" width="32" height="33" fill="#fbd3d5" stroke="#ee6a6a" stroke-width="1.5"/>
<g stroke="#999" stroke-width="1.5" fill="#f2f2f2">
<rect x="1399" y="534" width="33" height="33"/><rect x="1440" y="534" width="32" height="33"/><rect x="1481" y="534" width="32" height="33"/><rect x="1573" y="534" width="32" height="33"/>
</g>
<text x="1527" y="556" font-size="18">• • •</text>
<g font-size="20" text-anchor="middle"><text x="1678" y="492">Positional</text><text x="1678" y="515">Encoding</text><text x="1678" y="545">Input</text><text x="1678" y="568">Embedding</text></g>
<text x="1333" y="596" class="r" font-size="20">Emb(o)</text>
<text x="1529" y="622" font-size="21" text-anchor="middle" textLength="243" lengthAdjust="spacingAndGlyphs">(4) Two-level decoding</text>
</svg>
</body></html>
